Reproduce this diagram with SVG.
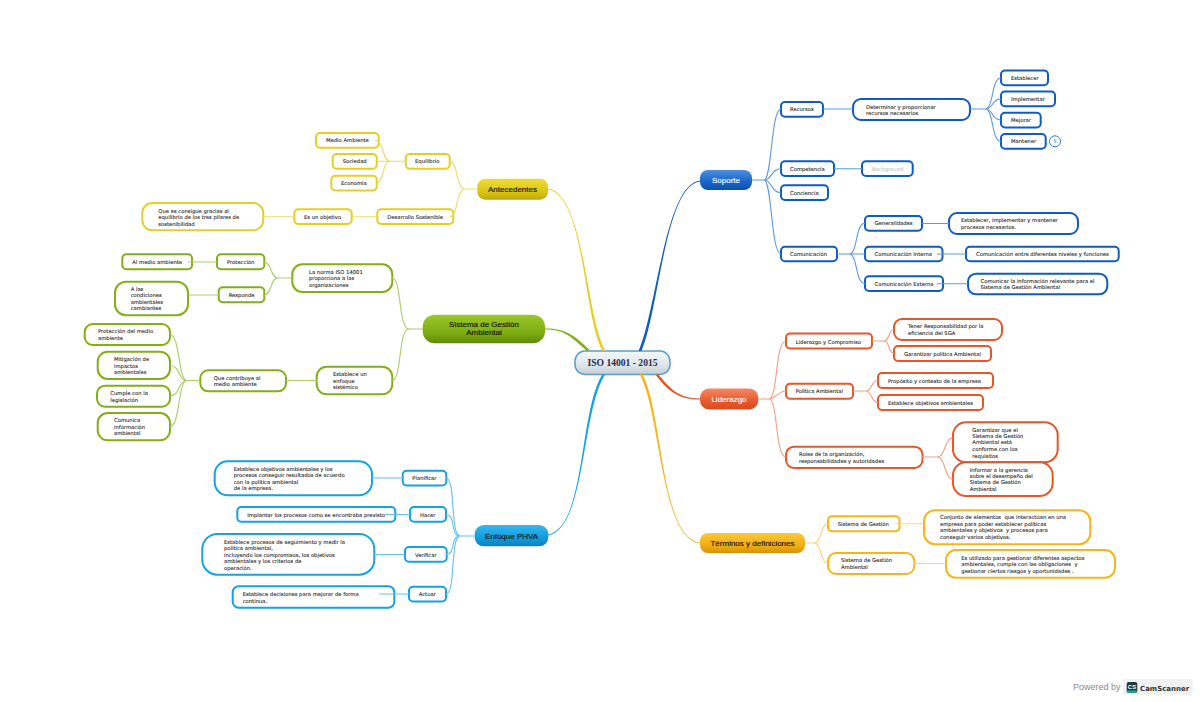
<svg xmlns="http://www.w3.org/2000/svg" width="1200" height="702" viewBox="0 0 1200 702">
<style>
text{font-family:"DejaVu Sans","Liberation Sans",sans-serif;font-size:5.25px;fill:#111;stroke:#111;stroke-width:.07px}
.n{fill:#fff;stroke-width:2}
.b{stroke:#0f5cc0}.r{stroke:#e5572b}.y{stroke:#e4cf24}.g{stroke:#84ad1a}.c{stroke:#14a2e0}.o{stroke:#f5b61c}
.cb,.cr,.cy,.cg,.cc,.co{fill:none;stroke-width:1.1}
.cb{stroke:#5f99d8}.cr{stroke:#ee9f84}.cy{stroke:#ebdc6e}.cg{stroke:#aecb68}.cc{stroke:#62c2ec}.co{stroke:#f9d583}
.t{font-family:"Liberation Sans",sans-serif;font-size:8px;text-anchor:middle;stroke-width:.15px}
.w{fill:#fff;stroke:#fff}
</style>
<defs>
<linearGradient id="gb" x1="0" y1="0" x2="0" y2="1"><stop offset="0" stop-color="#4f8fe0"/><stop offset=".55" stop-color="#1a68cc"/><stop offset="1" stop-color="#0c4fa8"/></linearGradient>
<linearGradient id="gr" x1="0" y1="0" x2="0" y2="1"><stop offset="0" stop-color="#f58a62"/><stop offset=".6" stop-color="#e8592c"/><stop offset="1" stop-color="#d84a20"/></linearGradient>
<linearGradient id="gy" x1="0" y1="0" x2="0" y2="1"><stop offset="0" stop-color="#efdc3a"/><stop offset=".6" stop-color="#dcc614"/><stop offset="1" stop-color="#bfa90c"/></linearGradient>
<linearGradient id="gg" x1="0" y1="0" x2="0" y2="1"><stop offset="0" stop-color="#9cc72c"/><stop offset=".6" stop-color="#7fae12"/><stop offset="1" stop-color="#5f8a08"/></linearGradient>
<linearGradient id="gc" x1="0" y1="0" x2="0" y2="1"><stop offset="0" stop-color="#38b8ee"/><stop offset=".6" stop-color="#129cdc"/><stop offset="1" stop-color="#0c82bf"/></linearGradient>
<linearGradient id="go" x1="0" y1="0" x2="0" y2="1"><stop offset="0" stop-color="#f9c83a"/><stop offset=".6" stop-color="#f2ae14"/><stop offset="1" stop-color="#d8920a"/></linearGradient>
<linearGradient id="gi" x1="0" y1="0" x2="0" y2="1"><stop offset="0" stop-color="#f6f8fa"/><stop offset=".6" stop-color="#dfe5ea"/><stop offset="1" stop-color="#c4ced6"/></linearGradient>
</defs>

<g id="nodes">
<g id="root"><rect x="575" y="351" width="95" height="23.500" rx="10" fill="url(#gi)" stroke="#5a9fc8" stroke-width="1.500"/><text x="622.500" y="366" text-anchor="middle" style="font-family:'Liberation Serif',serif;font-size:9.600px;font-weight:bold;fill:#1d2f4f;stroke:none">ISO 14001 - 2015</text></g>

<g id="soporte"><rect x="700" y="170" width="52" height="20" rx="8" fill="url(#gb)"/><text class="t w" x="726" y="183">Soporte</text></g>
<g id="liderazgo"><rect x="700" y="388.500" width="58.300" height="21" rx="9" fill="url(#gr)"/><text class="t w" x="729" y="401.800">Liderazgo</text></g>
<g id="terminos"><rect x="700" y="533" width="105" height="20" rx="8" fill="url(#go)"/><text class="t" x="752.500" y="545.800">Términos y definiciones</text></g>
<g id="antecedentes"><rect x="477.300" y="178.700" width="70.700" height="21" rx="8" fill="url(#gy)"/><text class="t" x="512.500" y="191.800">Antecedentes</text></g>
<g id="sga"><rect x="422.700" y="314.700" width="122.300" height="28.600" rx="12" fill="url(#gg)"/><text class="t" x="484" y="327">Sistema de Gestión</text><text class="t" x="484" y="335">Ambiental</text></g>
<g id="phva"><rect x="474.700" y="525" width="73.600" height="21.300" rx="9" fill="url(#gc)"/><text class="t" x="511.500" y="538.500">Enfoque PHVA</text></g>

<g id="n-recursos"><rect class="n b" x="781" y="102" width="42" height="14.700" rx="4"/><text x="790" y="111">Recursos</text></g>
<g id="n-determinar"><rect class="n b" x="853" y="99" width="117" height="21" rx="8"/><text x="866" y="108.700">Determinar y proporcionar</text><text x="866" y="115">recursos necesarios</text></g>
<g id="n-establecer"><rect class="n b" x="1001" y="70.500" width="47" height="14.700" rx="4"/><text x="1011" y="80">Establecer</text></g>
<g id="n-implementar"><rect class="n b" x="1001" y="91.500" width="54" height="14.700" rx="4"/><text x="1011" y="101">Implementar</text></g>
<g id="n-mejorar"><rect class="n b" x="1001" y="112.700" width="39.700" height="14.700" rx="4"/><text x="1011" y="122">Mejorar</text></g>
<g id="n-mantener"><rect class="n b" x="1001" y="134" width="44.700" height="14.700" rx="4"/><text x="1011" y="143.300">Mantener</text></g>
<g id="n-badge"><circle cx="1055" cy="141.300" r="5.500" fill="#fff" stroke="#2f7fd0" stroke-width="1"/><text x="1055" y="143.300" text-anchor="middle" style="fill:#2f6fb0;stroke:none">5</text></g>
<g id="n-competencia"><rect class="n b" x="781" y="161.300" width="53" height="14.700" rx="4"/><text x="790" y="170.700">Competencia</text></g>
<g id="n-background"><rect class="n b" x="862" y="161.300" width="50.700" height="14.700" rx="4"/><text x="872" y="170.700" style="fill:#b4b4b4;stroke:none">Background</text></g>
<g id="n-conciencia"><rect class="n b" x="781" y="185.300" width="47" height="14.700" rx="4"/><text x="790" y="194.700">Conciencia</text></g>
<g id="n-comunicacion"><rect class="n b" x="781" y="246.700" width="56" height="14.500" rx="4"/><text x="790" y="256">Comunicación</text></g>
<g id="n-generalidades"><rect class="n b" x="865" y="216" width="57" height="14.700" rx="4"/><text x="874.500" y="225.300">Generalidades</text></g>
<g id="n-gen-texto"><rect class="n b" x="949" y="213" width="129" height="21" rx="8"/><text x="961" y="222">Establecer, implementar y mantener</text><text x="961" y="228.700">procesos necesarios.</text></g>
<g id="n-interna"><rect class="n b" x="865" y="246.700" width="77.500" height="14.500" rx="4"/><text x="874.500" y="256">Comunicación Interna</text></g>
<g id="n-int-texto"><rect class="n b" x="966" y="246.700" width="152.700" height="14.500" rx="4"/><text x="976" y="256">Comunicación entre diferentes niveles y funciones</text></g>
<g id="n-externa"><rect class="n b" x="865" y="276.300" width="78" height="14.700" rx="4"/><text x="874.500" y="285.700">Comunicación Externa</text></g>
<g id="n-ext-texto"><rect class="n b" x="968" y="273.700" width="139.300" height="20.600" rx="8"/><text x="980.500" y="282.700">Comunicar la información relevante para el</text><text x="980.500" y="289">Sistema de Gestión Ambiental</text></g>

<g id="n-compromiso"><rect class="n r" x="786" y="333.500" width="86" height="15" rx="4"/><text x="795.700" y="343.500">Liderazgo y Compromiso</text></g>
<g id="n-tener"><rect class="n r" x="894" y="319" width="108" height="21" rx="8"/><text x="908" y="327.500">Tener Responsabilidad por la</text><text x="908" y="334.500">eficiencia del SGA</text></g>
<g id="n-garantizar-pol"><rect class="n r" x="894" y="346" width="97" height="15" rx="4"/><text x="904" y="355.500">Garantizar política Ambiental</text></g>
<g id="n-politica"><rect class="n r" x="786" y="383.700" width="67" height="15" rx="4"/><text x="795.700" y="393">Política Ambiental</text></g>
<g id="n-proposito"><rect class="n r" x="878" y="373" width="115" height="15" rx="4"/><text x="888" y="382.500">Propósito y contexto de la empresa</text></g>
<g id="n-objetivos"><rect class="n r" x="878" y="395" width="105" height="15" rx="4"/><text x="888" y="404.500">Establece objetivos ambientales</text></g>
<g id="n-roles"><rect class="n r" x="786" y="446.700" width="136.500" height="21.300" rx="8"/><text x="799" y="456">Roles de la organización,</text><text x="799" y="463">responsabilidades y autoridades</text></g>
<g id="n-garantizar"><rect class="n r" x="953" y="422.300" width="104.700" height="40" rx="13"/><text x="972.300" y="431.700">Garantizar que el</text><text x="972.300" y="438">Sistema de Gestión</text><text x="972.300" y="444.300">Ambiental está</text><text x="972.300" y="450.700">conforme con los</text><text x="972.300" y="457.700">requisitos</text></g>
<g id="n-informar"><rect class="n r" x="953" y="462.300" width="99.700" height="33.700" rx="13"/><text x="969.700" y="471.700">Informar a la gerencia</text><text x="969.700" y="478">sobre el desempeño del</text><text x="969.700" y="484.300">Sistema de Gestión</text><text x="969.700" y="490.700">Ambiental</text></g>

<g id="n-sg"><rect class="n o" x="828" y="516.300" width="71.500" height="15" rx="4"/><text x="837.700" y="525.700">Sistema de Gestión</text></g>
<g id="n-sg-texto"><rect class="n o" x="924" y="510.300" width="166.300" height="34" rx="11"/><text x="940" y="519.300" xml:space="preserve">Conjunto de elementos  que interactúan en una</text><text x="940" y="525.700">empresa para poder establecer políticas</text><text x="940" y="532.300" xml:space="preserve">ambientales y objetivos  y procesos para</text><text x="940" y="539">conseguir varios objetivos.</text></g>
<g id="n-sga2"><rect class="n o" x="828" y="553" width="86.300" height="21" rx="8"/><text x="841" y="562.300">Sistema de Gestión</text><text x="841" y="568.700">Ambiental</text></g>
<g id="n-sga2-texto"><rect class="n o" x="946" y="550" width="169" height="27.700" rx="10"/><text x="961.300" y="559.700">Es utilizado para gestionar diferentes aspectos</text><text x="961.300" y="566.300" xml:space="preserve">ambientales, cumple con las obligaciones  y</text><text x="961.300" y="572.700">gestionar ciertos riesgos y oportunidades .</text></g>

<g id="n-medio"><rect class="n y" x="316" y="133" width="62.700" height="14.700" rx="4"/><text x="326" y="142.300">Medio Ambiente</text></g>
<g id="n-sociedad"><rect class="n y" x="332.700" y="154" width="44" height="14.700" rx="4"/><text x="342.700" y="163.300">Sociedad</text></g>
<g id="n-economia"><rect class="n y" x="331.300" y="175.700" width="45.400" height="14.700" rx="4"/><text x="341" y="185">Economía</text></g>
<g id="n-equilibrio"><rect class="n y" x="405.700" y="154" width="44" height="14.700" rx="4"/><text x="415" y="163.300">Equilibrio</text></g>
<g id="n-desarrollo"><rect class="n y" x="377.300" y="209.300" width="76" height="14.700" rx="4"/><text x="387.300" y="218.700">Desarrollo Sostenible</text></g>
<g id="n-objetivo"><rect class="n y" x="294.300" y="209.300" width="57.400" height="14.700" rx="4"/><text x="304" y="218.700">Es un objetivo</text></g>
<g id="n-consigue"><rect class="n y" x="142.300" y="203" width="121" height="27.300" rx="10"/><text x="158.300" y="212.700">Que se consigue gracias al</text><text x="158.300" y="219">equilibrio de los tres pilares de</text><text x="158.300" y="225.700">sostenibilidad</text></g>

<g id="n-almedio"><rect class="n g" x="122.300" y="254.300" width="69.700" height="15" rx="4"/><text x="132.300" y="264">Al medio ambiente</text></g>
<g id="n-proteccion"><rect class="n g" x="217" y="254.300" width="47.300" height="15" rx="4"/><text x="227" y="264">Protección</text></g>
<g id="n-alas"><rect class="n g" x="115" y="281.700" width="73" height="33.600" rx="11"/><text x="130.700" y="291">A las</text><text x="130.700" y="297.300">condiciones</text><text x="130.700" y="304">ambientales</text><text x="130.700" y="310.300">cambiantes</text></g>
<g id="n-responde"><rect class="n g" x="218.700" y="287.300" width="45.600" height="15" rx="4"/><text x="228.700" y="297">Responde</text></g>
<g id="n-norma"><rect class="n g" x="292.300" y="264.300" width="100" height="27.700" rx="10"/><text x="309" y="273.700">La norma ISO 14001</text><text x="309" y="280.300">proporciona a las</text><text x="309" y="286.700">organizaciones</text></g>
<g id="n-protec"><rect class="n g" x="84.700" y="324" width="85.300" height="21" rx="8"/><text x="98" y="333.300">Protección del medio</text><text x="98" y="339.700">ambiente</text></g>
<g id="n-mitig"><rect class="n g" x="97.700" y="351.700" width="72.300" height="27.300" rx="10"/><text x="114" y="360.700">Mitigación de</text><text x="114" y="367.700">impactos</text><text x="114" y="374">ambientales</text></g>
<g id="n-cumple"><rect class="n g" x="97" y="385.700" width="73" height="21" rx="8"/><text x="110.300" y="395">Cumple con la</text><text x="110.300" y="401.700">legislación</text></g>
<g id="n-comunica"><rect class="n g" x="97.700" y="413" width="72.300" height="27.300" rx="10"/><text x="114" y="422.300">Comunica</text><text x="114" y="429">información</text><text x="114" y="435.300">ambiental</text></g>
<g id="n-contribuye"><rect class="n g" x="200.300" y="370.300" width="85.700" height="21" rx="8"/><text x="213.700" y="379.700">Que contribuye al</text><text x="213.700" y="386.300">medio ambiente</text></g>
<g id="n-enfoque"><rect class="n g" x="316.700" y="366.700" width="75.600" height="27.600" rx="10"/><text x="333" y="376">Establece un</text><text x="333" y="382.700">enfoque</text><text x="333" y="389.300">sistémico</text></g>

<g id="n-planificar"><rect class="n c" x="402.700" y="470.700" width="43.600" height="14.700" rx="4"/><text x="412.300" y="480">Planificar</text></g>
<g id="n-plan-texto"><rect class="n c" x="214.700" y="461.300" width="157.300" height="34" rx="13"/><text x="233.700" y="471">Establece objetivos ambientales y los</text><text x="233.700" y="477.300">procesos conseguir resultados de acuerdo</text><text x="233.700" y="484">con la política ambiental</text><text x="233.700" y="490.300">de la empresa.</text></g>
<g id="n-hacer"><rect class="n c" x="410" y="507" width="36" height="14.700" rx="4"/><text x="420" y="516.500">Hacer</text></g>
<g id="n-hacer-texto"><rect class="n c" x="237.300" y="507" width="158" height="14.700" rx="4"/><text x="247.300" y="516.500">Implantar los procesos como se encontraba previsto</text></g>
<g id="n-verificar"><rect class="n c" x="405" y="547" width="41.700" height="14.700" rx="4"/><text x="415" y="556.500">Verificar</text></g>
<g id="n-verif-texto"><rect class="n c" x="202.300" y="534" width="172" height="40.700" rx="15"/><text x="224" y="543.700">Establece procesos de seguimiento y medir la</text><text x="224" y="550.300">política ambiental,</text><text x="224" y="556.700">incluyendo los compromisos, los objetivos</text><text x="224" y="563.300">ambientales y los criterios de</text><text x="224" y="569.700">operación.</text></g>
<g id="n-actuar"><rect class="n c" x="409" y="586.700" width="37" height="14.700" rx="4"/><text x="418.700" y="596">Actuar</text></g>
<g id="n-act-texto"><rect class="n c" x="232.700" y="586.300" width="161.600" height="21.400" rx="6"/><text x="242.700" y="596">Establece decisiones para mejorar de forma</text><text x="242.700" y="602.700">continua.</text></g>

<g id="watermark"><text x="1073" y="690" style="font-family:'Liberation Sans',sans-serif;font-size:9px;fill:#8a8a8a;stroke:none">Powered by</text><rect x="1122.700" y="679" width="70" height="16" rx="3" fill="#f1f1f1"/><rect x="1126.700" y="682" width="10.600" height="10.700" rx="2" fill="#1f3a3a"/><rect x="1126.700" y="690.500" width="10.600" height="2.200" fill="#1fa890"/><text x="1132" y="688.500" text-anchor="middle" style="font-family:'Liberation Sans',sans-serif;font-size:6px;font-weight:bold;fill:#fff;stroke:none">CS</text><text x="1140" y="691" style="font-family:'DejaVu Sans',sans-serif;font-size:7px;font-weight:bold;fill:#333;stroke:none">CamScanner</text></g>
</g>

<g id="connectors">
<path fill="#0f5cc0" d="M638.600 351C656.800 310 665 184.300 700 180.500L700 181.500C665 185.700 659.200 310 641.400 351Z"/>
<path fill="#e5572b" d="M655.600 375C667 389 676 399.500 700 399.500L700 398.500C677 398.500 669 387 657.800 373.800Z"/>
<path fill="#f5b61c" d="M639.600 374C660.800 412 660 538.700 700 543.500L700 542.500C660 537.300 663.200 412 642.400 374Z"/>
<path fill="#e4cf24" d="M602.600 351C582.800 315 585 195.700 548 189.500L548 188.500C585 194.300 585.200 315 605.400 351Z"/>
<path fill="#84ad1a" d="M587 351C572 338 565 329.500 545 329.600L545 328.600C565 328.500 574 335 589.600 350Z"/>
<path fill="#14a2e0" d="M602.600 374C578.800 410 586 527.300 548 534.500L548 535.500C586 528.700 581.200 410 605.400 374Z"/>

<path class="cb" d="M752 180H764C772 180 771 109 781 109M764 180C772 180 771 168.700 781 168.700M764 180C772 180 771 192.700 781 192.700M764 180C772 180 771 254 781 254"/>
<path class="cb" d="M823 109H853M970 109H985C994 109 991 78 1001 78M985 109C994 109 991 99 1001 99M985 109C994 109 991 120 1001 120M985 109C994 109 991 141.300 1001 141.300M834 168.700H862"/>
<path class="cb" d="M837 254H849C858 254 855 223.300 865 223.300M849 254H865M849 254C858 254 855 283.700 865 283.700M922 223.500H949M937 254H966M937 283.700H968"/>

<path class="cr" d="M758 399H769C778 399 775 341 786 341M769 399C776 399 778 391 786 391M769 399C778 399 775 457 786 457"/>
<path class="cr" d="M872 341H884C890 341 888 329.500 894 329.500M884 341C890 341 888 353.500 894 353.500M853 391H866C872 391 871 380.500 878 380.500M866 391C872 391 871 402.500 878 402.500M922 457H937C946 457 944 438 953 438M937 457C946 457 944 479 953 479"/>

<path class="co" d="M805 543H814C822 543 820 523.700 828 523.700M814 543C822 543 820 563.500 828 563.500M895 523.700H924M914 563.500H946"/>

<path class="cy" d="M477 189H465C456 189 458 161.300 450 161.300M465 189C456 189 458 216.700 450 216.700"/>
<path class="cy" d="M406 161.300H390C382 161.300 384 140.300 375 140.300M390 161.300H377M390 161.300C382 161.300 384 183 377 183M377 216.700H352M294 216.700H263"/>

<path class="cg" d="M423 329H409C398 329 402 278 392 278M409 329C398 329 402 380.500 392 380.500"/>
<path class="cg" d="M292 278H278C270 278 272 262 264 262M278 278C270 278 272 295 264 295M217 262H188M219 295H188M317 380.500H286"/>
<path class="cg" d="M200 380.500H187C178 380.500 180 334.500 170 334.500M187 380.500C178 380.500 180 365.500 170 365.500M187 380.500C178 380.500 180 396 170 396M187 380.500C178 380.500 180 426.500 170 426.500"/>

<path class="cc" d="M475 536H460C450 536 456 478 446 478M460 536C450 536 456 514.500 446 514.500M460 536C450 536 456 554.500 446 554.500M460 536C450 536 456 594 446 594"/>
<path class="cc" d="M403 478H372M410 514.500H385M405 554.500H374M409 594H379"/>
</g>
</svg>
